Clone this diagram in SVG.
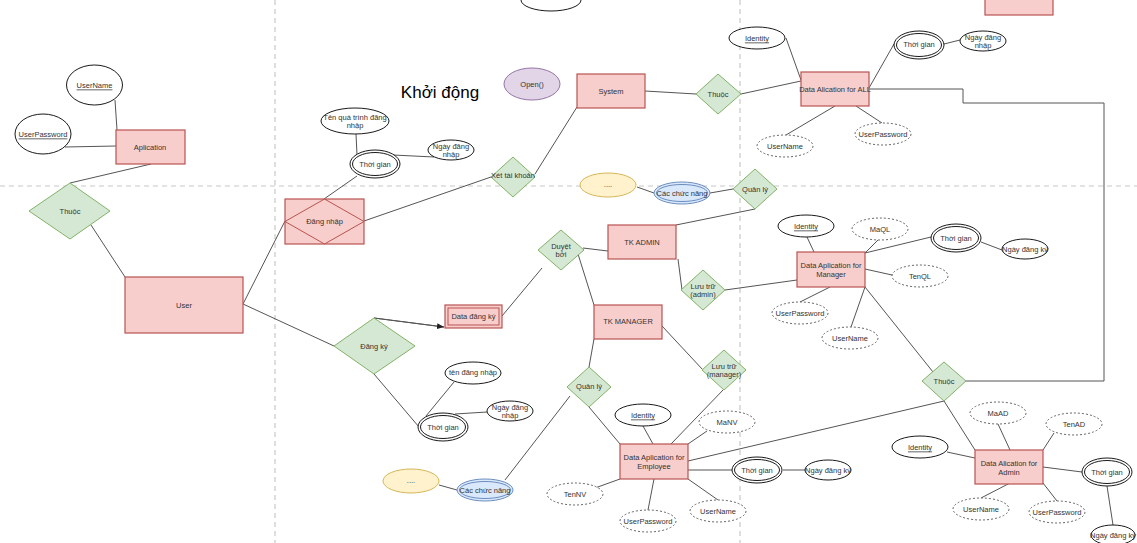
<svg xmlns="http://www.w3.org/2000/svg" width="1137" height="543" viewBox="0 0 1137 543">
<style>
.ent{fill:#f8cecc;stroke:#b85450;stroke-width:1.2}
.rel{fill:#d5e8d4;stroke:#82b366;stroke-width:1}
.att{fill:#fff;stroke:#000;stroke-width:0.9}
.dsh{fill:#fff;stroke:#666;stroke-width:1;stroke-dasharray:2 2}
.grid{stroke:#c8c8c8;stroke-width:1.2;stroke-dasharray:5 4;fill:none}
.ln{stroke:#555;stroke-width:1;fill:none}
text{font-family:"Liberation Sans",Arial,sans-serif;font-size:7.5px;fill:#333;text-anchor:middle;dominant-baseline:central}
.u{text-decoration:underline}
</style>
<defs><marker id="ar" markerWidth="8" markerHeight="8" refX="7" refY="4" orient="auto" markerUnits="userSpaceOnUse"><path d="M0,1 L7,4 L0,7 Z" fill="#222"/></marker></defs>
<rect width="1137" height="543" fill="#fff"/>
<g id="grid">
<line class="grid" x1="275" y1="0" x2="275" y2="543"/>
<line class="grid" x1="740" y1="0" x2="740" y2="543"/>
<line class="grid" x1="0" y1="186" x2="1137" y2="186"/>
</g>
<g id="connectors">
<path class="ln" d="M115,100 L117,130 M65,147 L116,146 M151,164 L70,183 M91,225 L125,277"/>
<path class="ln" d="M243,304 L285,221 M356,134 L357,155 M393,155 L434,157 M357,176 L324,199 M364,221 L491,177 M535,174 L577,107"/>
<path class="ln" d="M645,91 L696,94 M741,94 L801,81 M786,38 L801,80 M869,88 L894,44 M944,44 L960,40 M835,106 L786,135 M856,106 L882,123"/>
<path class="ln" d="M869,89 L963,89 L963,103 L1104,103 L1104,381 L966,381"/>
<path class="ln" d="M637,187 L654,193 M710,193 L733,189 M755,209 L676,225"/>
<path class="ln" d="M583,248 L608,251 M578,254 L594,305 M678,259 L682,290 M725,290 L797,280"/>
<path class="ln" d="M807,237 L814,252 M878,240 L865,253 M931,237 L865,253 M981,242 L1002,250 M865,269 L892,275 M830,287 L800,302 M865,287 L851,327 M865,287 L933,372"/>
<path class="ln" d="M594,339 L589,367 M662,326 L703,370 M724,389 L671,444 M589,407 L620,444 M570,396 L505,480 M439,485 L457,490"/>
<path class="ln" d="M643,426 L653,444 M707,431 L688,444 M688,461 L944,401 M688,470 L732,470 M783,470 L806,470 M688,479 L718,500 M654,479 L648,510 M620,479 L595,488"/>
<path class="ln" d="M944,401 L975,450 M998,424 L1010,450 M1054,433 L1043,450 M947,452 L975,458 M1082,472 L1043,467 M1107,486 L1113,525 M981,498 L1010,483 M1057,501 L1043,483"/>
<path class="ln" d="M243,304 L334,346 M374,318 L444,327 M374,374 L419,427 M454,382 L426,416 M487,412 L455,414 M502,316 L542,268" marker-end="none"/>
<line class="ln" x1="374" y1="318" x2="444" y2="327" marker-end="url(#ar)"/>
</g>
<g id="partials">
<ellipse class="att" cx="551" cy="0" rx="30" ry="11"/>
<rect class="ent" x="985" y="-20" width="68" height="35"/>
</g>
<g id="aplication">
<ellipse class="att" cx="94.5" cy="85" rx="28" ry="20"/><text x="94.5" y="85" class="u">UserName</text>
<ellipse class="att" cx="43" cy="134" rx="28" ry="20"/><text x="43" y="134" class="u">UserPassword</text>
<rect class="ent" x="116" y="130" width="69" height="34"/><text x="150" y="147">Aplication</text>
<polygon class="rel" points="70,183 110,211 70,239 29,211"/><text x="70" y="211">Thuộc</text>
</g>
<g id="user"><rect class="ent" x="125" y="277" width="118" height="56"/><text x="184" y="305">User</text></g>
<text x="440" y="92" style="font-size:17px;fill:#000">Khởi động</text>
<g id="open"><ellipse cx="532" cy="84" rx="28" ry="16" fill="#e1d5e7" stroke="#9673a6"/><text x="532" y="84">Open()</text></g>
<g id="dangnhap">
<ellipse class="att" cx="355" cy="121" rx="34" ry="13"/><text x="355" y="117">Tên quá trình đăng</text><text x="355" y="125">nhập</text>
<ellipse class="att" cx="451" cy="150" rx="23" ry="10"/><text x="451" y="146">Ngày đăng</text><text x="451" y="154">nhập</text>
<ellipse class="att" cx="375" cy="164" rx="25" ry="14"/><ellipse class="att" cx="375" cy="164" rx="22.5" ry="11.5"/><text x="375" y="164">Thời gian</text>
<rect class="ent" x="285" y="199" width="79" height="45"/>
<polygon points="324.5,199 364,221.5 324.5,244 285,221.5" fill="none" stroke="#b85450"/>
<text x="324.5" y="221">Đăng nhập</text>
<polygon class="rel" points="513,157 535,177 513,197 491,177"/><text x="513" y="175">Xét tài khoản</text>
</g>
<g id="system">
<rect class="ent" x="577" y="74" width="68" height="34"/><text x="611" y="91">System</text>
<polygon class="rel" points="718,74 741,94 718,114 696,94"/><text x="718" y="94">Thuộc</text>
</g>
<g id="all">
<rect class="ent" x="801" y="72" width="68" height="34"/><text x="835" y="89">Data Alication for ALL</text>
<ellipse class="att" cx="757" cy="38" rx="28" ry="11"/><text x="757" y="38" class="u">Identity</text>
<ellipse class="att" cx="919" cy="45" rx="25" ry="14"/><ellipse class="att" cx="919" cy="45" rx="22.5" ry="11.5"/><text x="919" y="44">Thời gian</text>
<ellipse class="att" cx="983" cy="41" rx="23" ry="10"/><text x="983" y="37">Ngày đăng</text><text x="983" y="45">nhập</text>
<ellipse class="dsh" cx="785" cy="146" rx="28" ry="11"/><text x="785" y="146">UserName</text>
<ellipse class="dsh" cx="883" cy="134" rx="28" ry="11"/><text x="883" y="134">UserPassword</text>
</g>
<g id="admin-top">
<ellipse cx="608" cy="185" rx="28" ry="12" fill="#fff2cc" stroke="#d6b656"/><text x="608" y="184">....</text>
<ellipse cx="682" cy="193" rx="28" ry="11" fill="#dae8fc" stroke="#6c8ebf"/><ellipse cx="682" cy="193" rx="25.5" ry="8.5" fill="none" stroke="#6c8ebf"/><text x="682" y="193">Các chức năng</text>
<polygon class="rel" points="755,169 777,189 755,209 733,189"/><text x="755" y="189">Quản lý</text>
<rect class="ent" x="608" y="225" width="68" height="34"/><text x="642" y="242">TK ADMIN</text>
<polygon class="rel" points="561,230 584,250 561,270 538,250"/><text x="561" y="246">Duyệt</text><text x="561" y="254">bởi</text>
<polygon class="rel" points="703,270 725,290 703,310 681,290"/><text x="703" y="286">Lưu trữ</text><text x="703" y="294">(admin)</text>
</g>
<g id="manager">
<rect class="ent" x="797" y="252" width="68" height="35"/><text x="831" y="265">Data Aplication for</text><text x="831" y="274">Manager</text>
<ellipse class="att" cx="806" cy="226" rx="28" ry="11"/><text x="806" y="226" class="u">Identity</text>
<ellipse class="dsh" cx="880" cy="229" rx="28" ry="11"/><text x="880" y="229">MaQL</text>
<ellipse class="att" cx="956" cy="238" rx="25" ry="14"/><ellipse class="att" cx="956" cy="238" rx="22.5" ry="11.5"/><text x="956" y="238">Thời gian</text>
<ellipse class="att" cx="1025" cy="249" rx="23" ry="10"/><text x="1025" y="249">Ngày đăng ký</text>
<ellipse class="dsh" cx="920" cy="276" rx="28" ry="11"/><text x="920" y="276">TenQL</text>
<ellipse class="dsh" cx="800" cy="313" rx="28" ry="11"/><text x="800" y="313">UserPassword</text>
<ellipse class="dsh" cx="850" cy="338" rx="28" ry="11"/><text x="850" y="338">UserName</text>
</g>
<g id="dangky">
<rect class="ent" x="445" y="305" width="57" height="23"/><rect x="448" y="308" width="51" height="17" fill="none" stroke="#b85450"/><text x="473.5" y="316">Data đăng ký</text>
<polygon class="rel" points="374,318 415,346 374,374 334,346"/><text x="374" y="346">Đăng ký</text>
<ellipse class="att" cx="473" cy="373" rx="28" ry="11"/><text x="473" y="372">tên đăng nhập</text>
<ellipse class="att" cx="510" cy="411" rx="23" ry="10"/><text x="510" y="407">Ngày đăng</text><text x="510" y="415">nhập</text>
<ellipse class="att" cx="443" cy="427" rx="25" ry="14"/><ellipse class="att" cx="443" cy="427" rx="22.5" ry="11.5"/><text x="443" y="427">Thời gian</text>
</g>
<g id="tkmanager">
<rect class="ent" x="594" y="305" width="68" height="34"/><text x="628" y="321">TK MANAGER</text>
<polygon class="rel" points="724,350 746,370 724,390 702,370"/><text x="724" y="366">Lưu trữ</text><text x="724" y="374">(manager)</text>
<polygon class="rel" points="589,367 611,387 589,407 567,387"/><text x="589" y="386">Quản lý</text>
<ellipse cx="411" cy="481" rx="28" ry="12" fill="#fff2cc" stroke="#d6b656"/><text x="411" y="480">....</text>
<ellipse cx="485" cy="490" rx="28" ry="11" fill="#dae8fc" stroke="#6c8ebf"/><ellipse cx="485" cy="490" rx="25.5" ry="8.5" fill="none" stroke="#6c8ebf"/><text x="485" y="490">Các chức năng</text>
</g>
<g id="employee">
<rect class="ent" x="620" y="444" width="68" height="35"/><text x="654" y="457">Data Aplication for</text><text x="654" y="466">Employee</text>
<ellipse class="att" cx="643" cy="415" rx="28" ry="11"/><text x="643" y="415" class="u">Identity</text>
<ellipse class="dsh" cx="727" cy="422" rx="28" ry="11"/><text x="727" y="422">MaNV</text>
<ellipse class="att" cx="757" cy="470" rx="25" ry="13"/><ellipse class="att" cx="757" cy="470" rx="22.5" ry="10.5"/><text x="757" y="470">Thời gian</text>
<ellipse class="att" cx="828" cy="470" rx="23" ry="10"/><text x="828" y="470">Ngày đăng ký</text>
<ellipse class="dsh" cx="718" cy="511" rx="28" ry="11"/><text x="718" y="511">UserName</text>
<ellipse class="dsh" cx="648" cy="521" rx="28" ry="11"/><text x="648" y="521">UserPassword</text>
<ellipse class="dsh" cx="575" cy="494" rx="28" ry="11"/><text x="575" y="494">TenNV</text>
</g>
<g id="adminnode">
<polygon class="rel" points="944,362 966,381 944,401 922,381"/><text x="944" y="381">Thuộc</text>
<rect class="ent" x="975" y="450" width="68" height="34"/><text x="1009" y="463">Data Alication for</text><text x="1009" y="472">Admin</text>
<ellipse class="dsh" cx="998" cy="413" rx="28" ry="11"/><text x="998" y="413">MaAD</text>
<ellipse class="dsh" cx="1074" cy="424" rx="28" ry="11"/><text x="1074" y="424">TenAD</text>
<ellipse class="att" cx="920" cy="447" rx="28" ry="11"/><text x="920" y="447" class="u">Identity</text>
<ellipse class="att" cx="1107" cy="472" rx="25" ry="14"/><ellipse class="att" cx="1107" cy="472" rx="22.5" ry="11.5"/><text x="1107" y="472">Thời gian</text>
<ellipse class="att" cx="1113" cy="535" rx="22" ry="10"/><text x="1113" y="535">Ngày đăng ký</text>
<ellipse class="dsh" cx="981" cy="509" rx="28" ry="11"/><text x="981" y="509">UserName</text>
<ellipse class="dsh" cx="1057" cy="512" rx="28" ry="11"/><text x="1057" y="512">UserPassword</text>
</g>
</svg>
